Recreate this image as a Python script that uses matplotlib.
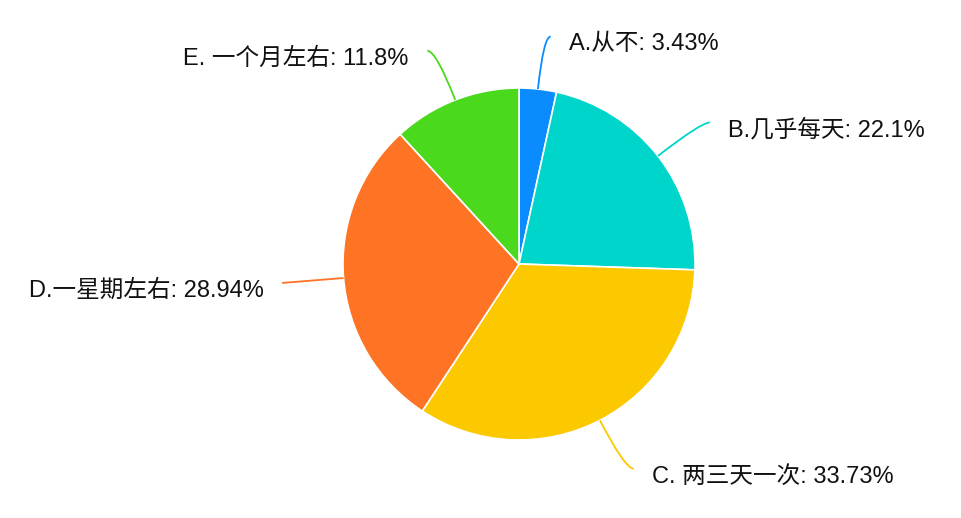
import numpy as np
import matplotlib
matplotlib.use("Agg")
import matplotlib.pyplot as plt
from matplotlib.path import Path
from matplotlib.patches import PathPatch

plt.rcParams['font.family'] = ['Liberation Sans', 'Noto Sans CJK SC', 'DejaVu Sans']

categories = ["A.从不", "B.几乎每天", "C. 两三天一次", "D.一星期左右", "E. 一个月左右"]
values = [3.43, 22.1, 33.73, 28.94, 11.8]
value_labels = ["3.43%", "22.1%", "33.73%", "28.94%", "11.8%"]

colors = ["#0A8CFF", "#00D5CB", "#FCC800", "#FF7324", "#4BD91E"]
# leader line layout (in pie-radius units): radial length, horizontal length
len1 = [0.30, 0.31, 0.31, 0.35, 0.30]
len2 = [0.04, 0.05, 0.05, 0.0, 0.05]

W, H = 961, 518
fig = plt.figure(figsize=(W / 100, H / 100), dpi=100)
ax = fig.add_axes([0, 0, 1, 1])
cx, cy, R = 519, 264, 176

wedges, _ = ax.pie(values, colors=colors, startangle=90, counterclock=False,
                   radius=1, center=(0, 0),
                   wedgeprops=dict(edgecolor='white', linewidth=1.2))
ax.set_xlim(-cx / R, (W - cx) / R)
ax.set_ylim(-(H - cy) / R, cy / R)
ax.set_aspect('equal')
ax.axis('off')

for w, cat, vl, c, l1, l2 in zip(wedges, categories, value_labels, colors, len1, len2):
    mid = np.deg2rad((w.theta1 + w.theta2) / 2)
    d = np.array([np.cos(mid), np.sin(mid)])
    p0 = d * 1.0
    p1 = d * (1.0 + l1)
    side = 1 if d[0] >= 0 else -1
    p2 = p1 + np.array([side * l2, 0])
    if l2 == 0:
        p2 = p1
        p1 = (p0 + p2) / 2
    path = Path([p0, p1, p2], [Path.MOVETO, Path.CURVE3, Path.CURVE3])
    ax.add_patch(PathPatch(path, fill=False, edgecolor=c, linewidth=1.3))
    tx = p2[0] + side * 0.105
    ty = p2[1] - 0.045
    ax.text(tx, ty, f"{cat}: {vl}", ha='left' if side > 0 else 'right',
            va='center', fontsize=17, color='#111111')

fig.savefig("out.png", dpi=100, facecolor='white')
